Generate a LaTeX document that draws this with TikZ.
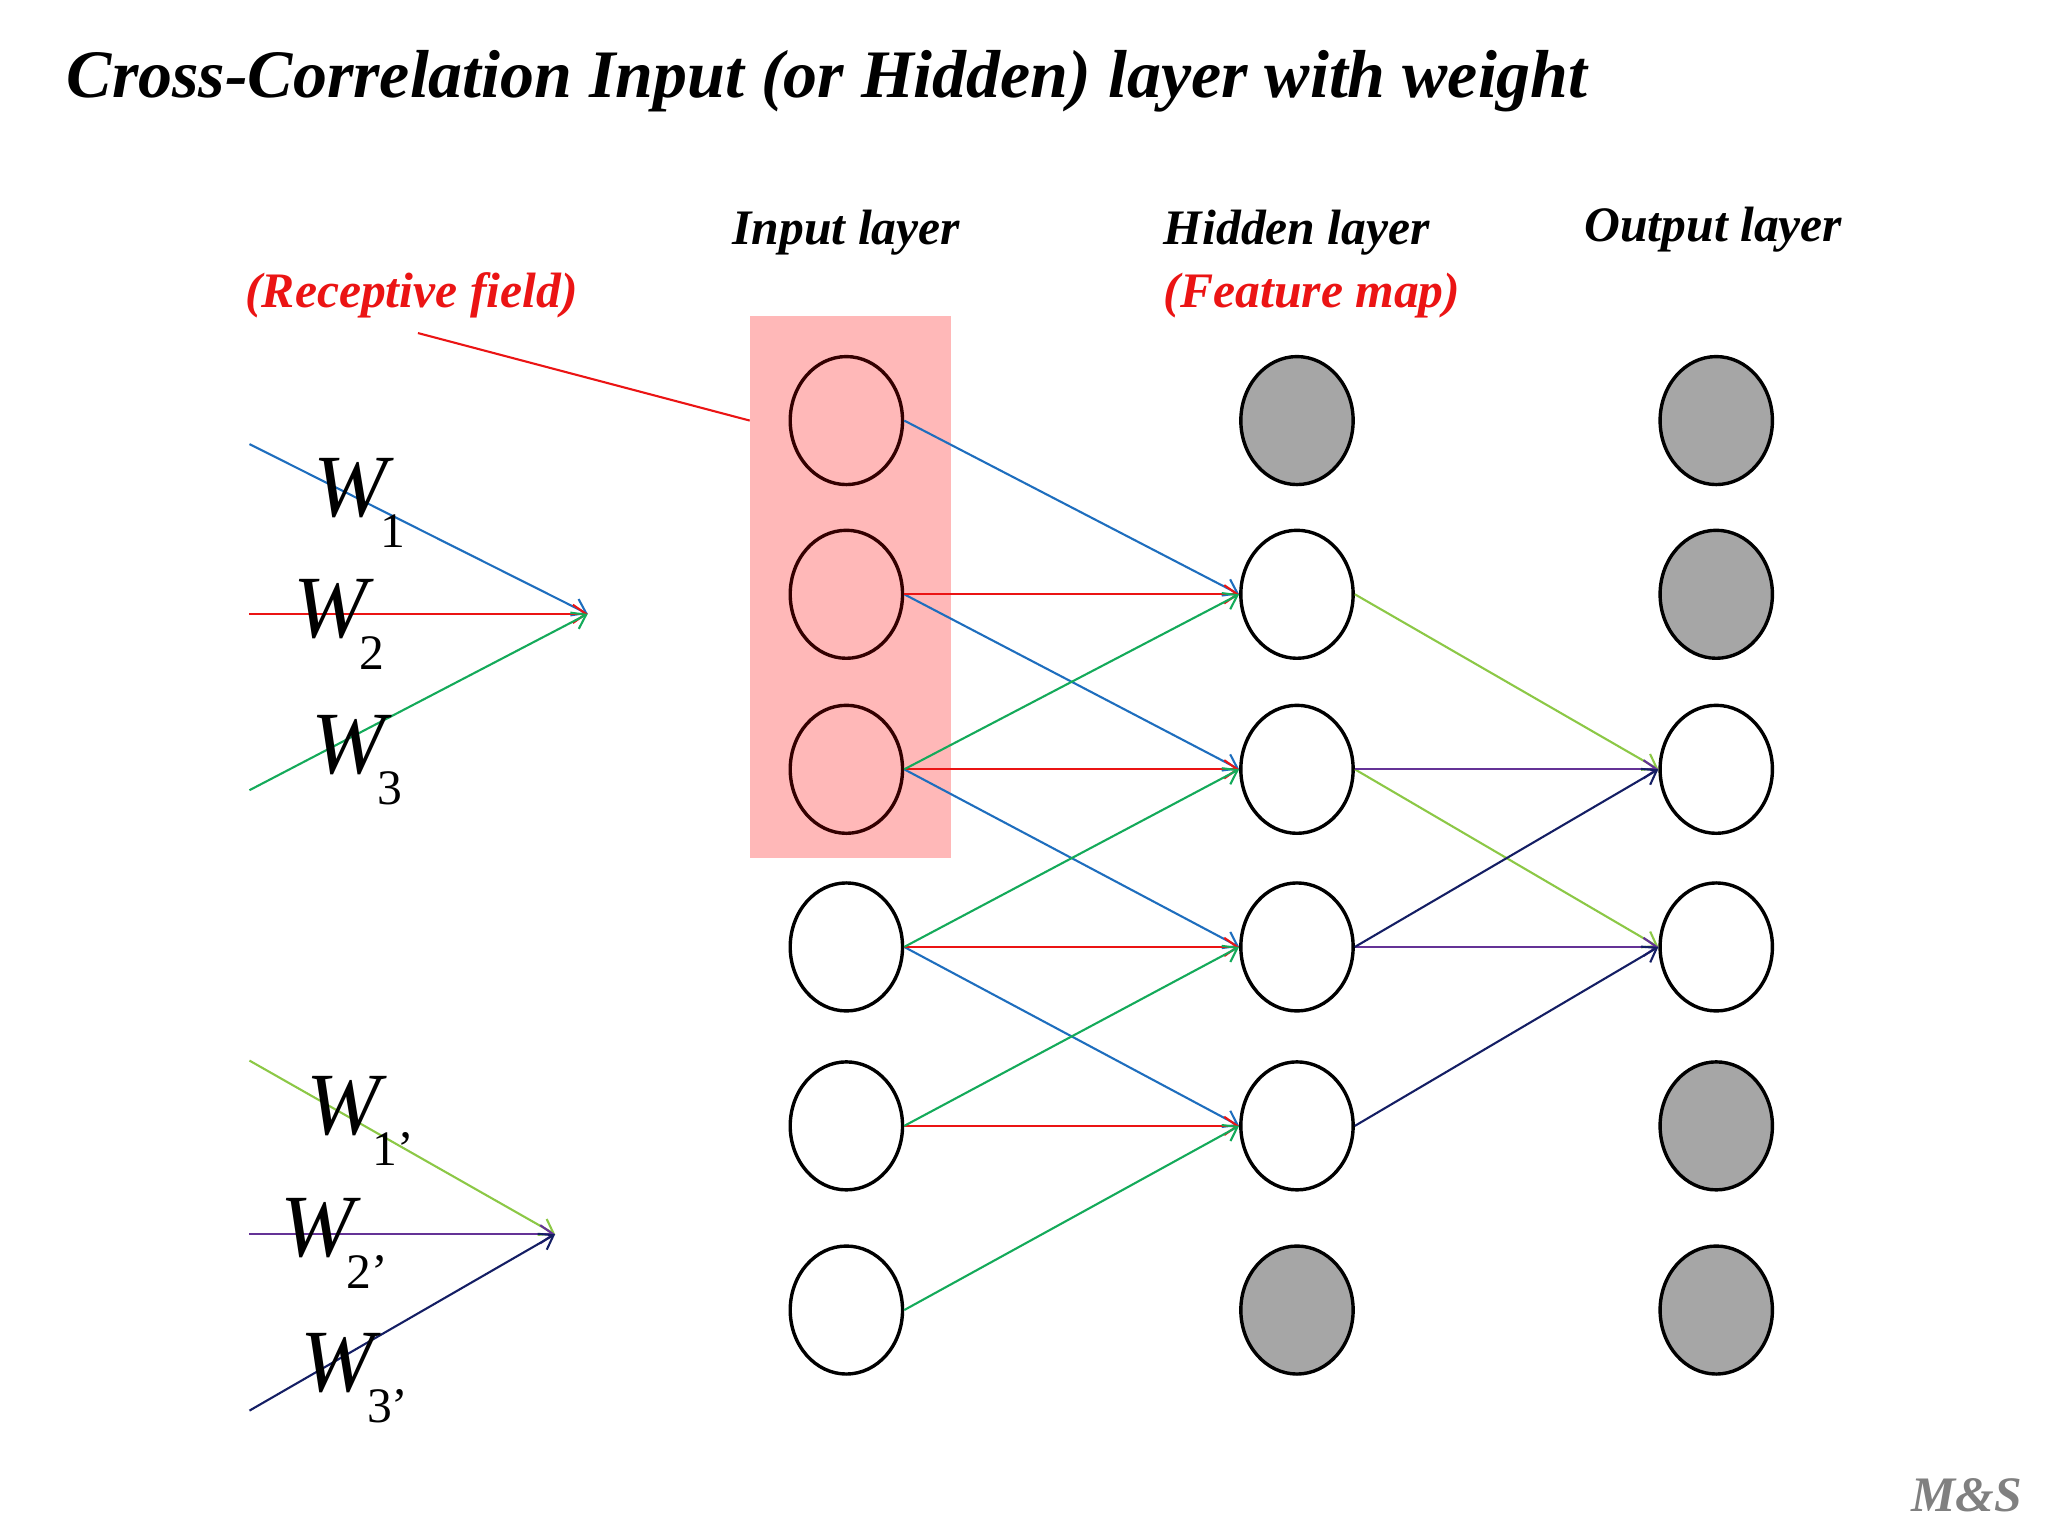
\documentclass[tikz,border=0pt]{standalone}
\usepackage{fontspec}
\usetikzlibrary{shapes.geometric,arrows.meta}
\setmainfont{Liberation Serif}
\newcommand{\wsub}[1]{{\itshape W}\kern-3pt\raisebox{-12pt}{\fontsize{19}{20}\selectfont #1}}
\begin{document}
\begin{tikzpicture}[x=0.5pt,y=-0.5pt,
 neu/.style={draw,line width=1.3pt,ellipse,minimum width=43pt,minimum height=49pt,inner sep=0pt,fill=white},
 gr/.style={neu,fill=gray!70},
 pk/.style={neu,fill=none,draw=black!80!red},
 ar/.style={-{Straight Barb[length=5pt,width=7pt]},line width=0.8pt},
 lbl/.style={font=\fontsize{19}{21}\selectfont\bfseries\itshape},
 wl/.style={font=\fontsize{34}{36}\selectfont,anchor=west,inner sep=0pt}]
\definecolor{cb}{RGB}{30,110,190}
\definecolor{cr}{RGB}{235,20,20}
\definecolor{cg}{RGB}{20,170,90}
\definecolor{clg}{RGB}{140,200,70}
\definecolor{cp}{RGB}{100,50,150}
\definecolor{cd}{RGB}{20,30,100}
\useasboundingbox (0,0) rectangle (1568,1176);
\fill[white] (0,0) rectangle (1568,1176);
\node[anchor=west,font=\fontsize{26}{28}\selectfont\bfseries\itshape] (t) at (44,62) {Cross-Correlation Input (or Hidden) layer with weight};
\fill[red!28] (574,242) rectangle (728,657);
\node[lbl] (li) at (648,178) {Input layer};
\node[lbl,anchor=west] (lh) at (884,178) {Hidden layer};
\node[lbl,anchor=west,text=cr] (lf) at (884,226) {(Feature map)};
\node[lbl,anchor=west] (lo) at (1206,176) {Output layer};
\node[lbl,text=cr] (lr) at (315,226) {(Receptive field)};
\coordinate (rs) at (320,255);
\coordinate (re) at (574,322);
\draw[cr,line width=0.8pt] (rs) -- (re);
\foreach \i/\y in {1/322,2/455,3/589} \node[pk] (i\i) at (648,\y) {};
\foreach \i/\y in {4/725,5/862,6/1003} \node[neu] (i\i) at (648,\y) {};
\foreach \i/\y in {1/322,6/1003} \node[gr] (h\i) at (993,\y) {};
\foreach \i/\y in {2/455,3/589,4/725,5/862} \node[neu] (h\i) at (993,\y) {};
\foreach \i/\y in {1/322,2/455,5/862,6/1003} \node[gr] (o\i) at (1314,\y) {};
\foreach \i/\y in {3/589,4/725} \node[neu] (o\i) at (1314,\y) {};
\foreach \a/\b in {1/2,2/3,3/4,4/5} \draw[ar,cb] (i\a.east) -- (h\b.west);
\foreach \a/\b in {2/2,3/3,4/4,5/5} \draw[ar,cr] (i\a.east) -- (h\b.west);
\foreach \a/\b in {3/2,4/3,5/4,6/5} \draw[ar,cg] (i\a.east) -- (h\b.west);
\foreach \a/\b in {2/3,3/4} \draw[ar,clg] (h\a.east) -- (o\b.west);
\foreach \a/\b in {3/3,4/4} \draw[ar,cp] (h\a.east) -- (o\b.west);
\foreach \a/\b in {4/3,5/4} \draw[ar,cd] (h\a.east) -- (o\b.west);
% legend
\coordinate (e1) at (450,470);
\coordinate (a1) at (191,340); \coordinate (a2) at (191,470); \coordinate (a3) at (191,605);
\draw[ar,cb] (a1) -- (e1); \draw[ar,cr] (a2) -- (e1); \draw[ar,cg] (a3) -- (e1);
\node[wl] (w1) at (240,385) {\wsub{1}};
\node[wl] (w2) at (224,478) {\wsub{2}};
\node[wl] (w3) at (238,582) {\wsub{3}};
\coordinate (e2) at (425,945);
\coordinate (b1) at (191,812); \coordinate (b2) at (191,945); \coordinate (b3) at (191,1080);
\draw[ar,clg] (b1) -- (e2); \draw[ar,cp] (b2) -- (e2); \draw[ar,cd] (b3) -- (e2);
\node[wl] (w4) at (234,858) {\wsub{1'}};
\node[wl] (w5) at (214,952) {\wsub{2'}};
\node[wl] (w6) at (230,1055) {\wsub{3'}};
\node[font=\fontsize{19}{20}\selectfont\bfseries\itshape,text=gray,anchor=east] (ms) at (1555,1145) {M\&S};
\end{tikzpicture}
\end{document}
